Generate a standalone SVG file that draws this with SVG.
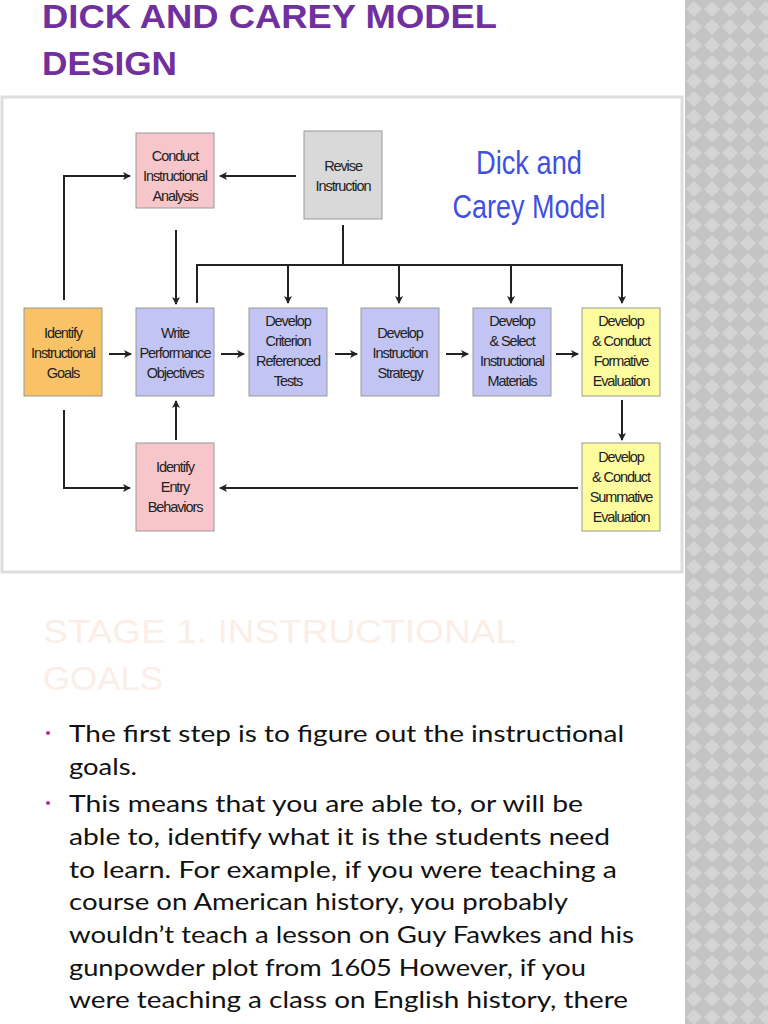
<svg xmlns="http://www.w3.org/2000/svg" width="768" height="1024" viewBox="0 0 768 1024">
<defs>
<pattern id="dia" width="18" height="18" patternUnits="userSpaceOnUse" x="685">
<rect width="18" height="18" fill="#c4c4c4"/>
<path d="M9 1 L17 9 L9 17 L1 9 Z" fill="#d4d4d4"/>
</pattern>
<marker id="ah" markerWidth="8" markerHeight="8" refX="7" refY="4" orient="auto" markerUnits="userSpaceOnUse"><path d="M0 0 L8 4 L0 8 L2 4 Z" fill="#222"/></marker>
</defs>
<style>
.box{stroke:#999;stroke-width:1}
.t{font-family:"Liberation Sans",Arial,sans-serif;font-size:14.5px;fill:#222;text-anchor:middle;letter-spacing:-1.1px}
.c{fill:none;stroke:#222;stroke-width:2}
.b{font-family:"Lato","Open Sans",sans-serif;font-size:24px;fill:#111}
</style>
<rect width="768" height="1024" fill="#fff"/>
<rect x="685" y="0" width="83" height="1024" fill="url(#dia)"/>
<text x="42" y="28" font-family="Liberation Sans,Arial,sans-serif" font-weight="bold" font-size="34" fill="#7030a0" textLength="455" lengthAdjust="spacingAndGlyphs">DICK AND CAREY MODEL</text>
<text x="42" y="75" font-family="Liberation Sans,Arial,sans-serif" font-weight="bold" font-size="34" fill="#7030a0" textLength="135" lengthAdjust="spacingAndGlyphs">DESIGN</text>
<rect x="2" y="97" width="680" height="475" fill="#fff" stroke="#ddd" stroke-width="3"/>
<text x="529" y="174" font-family="Liberation Sans,Arial,sans-serif" font-size="34" fill="#4050e0" text-anchor="middle" textLength="106" lengthAdjust="spacingAndGlyphs">Dick and</text>
<text x="529" y="218" font-family="Liberation Sans,Arial,sans-serif" font-size="34" fill="#4050e0" text-anchor="middle" textLength="153" lengthAdjust="spacingAndGlyphs">Carey Model</text>
<g id="connectors">
<path class="c" d="M64 300 V176 H130" marker-end="url(#ah)"/>
<path class="c" d="M64 410 V488 H130" marker-end="url(#ah)"/>
<path class="c" d="M296 176 H220" marker-end="url(#ah)" stroke-width="3"/>
<path class="c" d="M176 230 V304" marker-end="url(#ah)" stroke-width="1.5"/>
<path class="c" d="M343 225 V265"/>
<path class="c" d="M197 303 V265 H622 V303" marker-end="url(#ah)"/>
<path class="c" d="M288 265 V303" marker-end="url(#ah)" stroke-width="1.5"/>
<path class="c" d="M399 265 V303" marker-end="url(#ah)" stroke-width="1.5"/>
<path class="c" d="M511 265 V303" marker-end="url(#ah)" stroke-width="1.5"/>
<path class="c" d="M176 440 V401" marker-end="url(#ah)" stroke-width="1.5"/>
<path class="c" d="M622 400 V440" marker-end="url(#ah)"/>
<path class="c" d="M578 488 H220" marker-end="url(#ah)" stroke-width="3"/>
<path class="c" d="M109 354 H131" marker-end="url(#ah)"/>
<path class="c" d="M221 354 H244" marker-end="url(#ah)"/>
<path class="c" d="M335 354 H357" marker-end="url(#ah)"/>
<path class="c" d="M446 354 H468" marker-end="url(#ah)"/>
<path class="c" d="M556 354 H578" marker-end="url(#ah)"/>
</g>
<g id="conduct"><rect class="box" x="136" y="133" width="78" height="75" fill="#f7c6cb"/><text class="t" x="175" y="161">Conduct</text><text class="t" x="175" y="181">Instructional</text><text class="t" x="175" y="201">Analysis</text></g>
<g id="revise"><rect class="box" x="304" y="131" width="78" height="88" fill="#d9d9d9"/><text class="t" x="343" y="171">Revise</text><text class="t" x="343" y="191">Instruction</text></g>
<g id="goals"><rect class="box" x="24" y="308" width="78" height="88" fill="#f8c265"/><text class="t" x="63" y="338">Identify</text><text class="t" x="63" y="358">Instructional</text><text class="t" x="63" y="378">Goals</text></g>
<g id="write"><rect class="box" x="136" y="308" width="78" height="88" fill="#c2c4f3"/><text class="t" x="175" y="338">Write</text><text class="t" x="175" y="358">Performance</text><text class="t" x="175" y="378">Objectives</text></g>
<g id="criterion"><rect class="box" x="249" y="308" width="78" height="88" fill="#c2c4f3"/><text class="t" x="288" y="326">Develop</text><text class="t" x="288" y="346">Criterion</text><text class="t" x="288" y="366">Referenced</text><text class="t" x="288" y="386">Tests</text></g>
<g id="strategy"><rect class="box" x="361" y="308" width="78" height="88" fill="#c2c4f3"/><text class="t" x="400" y="338">Develop</text><text class="t" x="400" y="358">Instruction</text><text class="t" x="400" y="378">Strategy</text></g>
<g id="materials"><rect class="box" x="473" y="308" width="78" height="88" fill="#c2c4f3"/><text class="t" x="512" y="326">Develop</text><text class="t" x="512" y="346">&amp; Select</text><text class="t" x="512" y="366">Instructional</text><text class="t" x="512" y="386">Materials</text></g>
<g id="formative"><rect class="box" x="582" y="308" width="78" height="88" fill="#fdfd9f"/><text class="t" x="621" y="326">Develop</text><text class="t" x="621" y="346">&amp; Conduct</text><text class="t" x="621" y="366">Formative</text><text class="t" x="621" y="386">Evaluation</text></g>
<g id="summative"><rect class="box" x="582" y="443" width="78" height="88" fill="#fdfd9f"/><text class="t" x="621" y="462">Develop</text><text class="t" x="621" y="482">&amp; Conduct</text><text class="t" x="621" y="502">Summative</text><text class="t" x="621" y="522">Evaluation</text></g>
<g id="entry"><rect class="box" x="136" y="443" width="78" height="88" fill="#f7c6cb"/><text class="t" x="175" y="472">Identify</text><text class="t" x="175" y="492">Entry</text><text class="t" x="175" y="512">Behaviors</text></g>
<text x="43" y="643" font-family="Liberation Sans,Arial,sans-serif" font-size="34" fill="#fbeee6" textLength="473" lengthAdjust="spacingAndGlyphs">STAGE 1. INSTRUCTIONAL</text>
<text x="43" y="690" font-family="Liberation Sans,Arial,sans-serif" font-size="34" fill="#fbeee6" textLength="120" lengthAdjust="spacingAndGlyphs">GOALS</text>
<circle cx="48" cy="733" r="2" fill="#b0308a"/>
<circle cx="48" cy="803" r="2" fill="#b0308a"/>
<text class="b" x="69" y="742" textLength="555" lengthAdjust="spacingAndGlyphs">The first step is to figure out the instructional</text>
<text class="b" x="69" y="775" textLength="68" lengthAdjust="spacingAndGlyphs">goals.</text>
<text class="b" x="69" y="812" textLength="514" lengthAdjust="spacingAndGlyphs">This means that you are able to, or will be</text>
<text class="b" x="69" y="845" textLength="541" lengthAdjust="spacingAndGlyphs">able to, identify what it is the students need</text>
<text class="b" x="69" y="878" textLength="548" lengthAdjust="spacingAndGlyphs">to learn. For example, if you were teaching a</text>
<text class="b" x="69" y="910" textLength="499" lengthAdjust="spacingAndGlyphs">course on American history, you probably</text>
<text class="b" x="69" y="943" textLength="565" lengthAdjust="spacingAndGlyphs">wouldn’t teach a lesson on Guy Fawkes and his</text>
<text class="b" x="69" y="976" textLength="517" lengthAdjust="spacingAndGlyphs">gunpowder plot from 1605 However, if you</text>
<text class="b" x="69" y="1008" textLength="559" lengthAdjust="spacingAndGlyphs">were teaching a class on English history, there</text>
</svg>
